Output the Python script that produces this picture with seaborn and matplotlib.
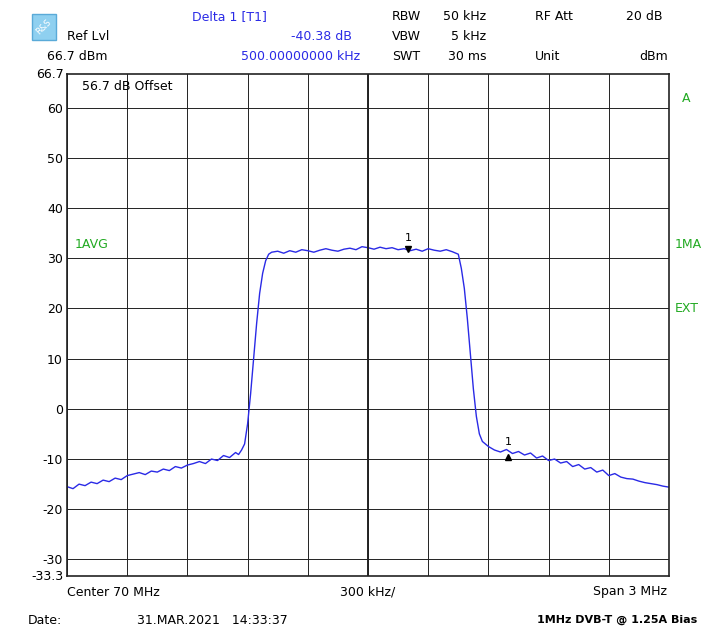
import numpy as np
import pandas as pd
import matplotlib
matplotlib.use("Agg")
import matplotlib.pyplot as plt
import seaborn as sns

# trace: division index (0..10) and level in dBm
divs = [0, 0.1, 0.2, 0.3, 0.4, 0.5, 0.6, 0.7, 0.8, 0.9, 1.0, 1.1, 1.2, 1.3, 1.4, 1.5, 1.6, 1.7,
        1.8, 1.9, 2.0, 2.1, 2.2, 2.3, 2.4, 2.5, 2.6, 2.7, 2.8, 2.85, 2.9, 2.95, 3.0, 3.05, 3.1,
        3.15, 3.2, 3.25, 3.3, 3.35, 3.4, 3.5, 3.6, 3.7, 3.8, 3.9, 4.0, 4.1, 4.2, 4.3, 4.4, 4.5,
        4.6, 4.7, 4.8, 4.9, 5.0, 5.1, 5.2, 5.3, 5.4, 5.5, 5.6, 5.7, 5.8, 5.9, 6.0, 6.1, 6.2,
        6.3, 6.4, 6.5, 6.55, 6.6, 6.65, 6.7, 6.75, 6.8, 6.85, 6.9, 7.0, 7.1, 7.2, 7.3, 7.4, 7.5,
        7.6, 7.7, 7.8, 7.9, 8.0, 8.1, 8.2, 8.3, 8.4, 8.5, 8.6, 8.7, 8.8, 8.9, 9.0, 9.1, 9.2,
        9.3, 9.4, 9.5, 9.6, 9.7, 9.8, 9.9, 10.0]
level = [-15.5, -15.9, -15.0, -15.3, -14.6, -14.9, -14.2, -14.5, -13.8, -14.1, -13.3, -13.0,
         -12.7, -13.1, -12.4, -12.6, -12.0, -12.3, -11.5, -11.8, -11.2, -10.9, -10.5, -10.9,
         -10.0, -10.3, -9.3, -9.7, -8.7, -9.1, -8.2, -7.0, -3.0, 3.0, 10.0, 17.0, 23.0, 27.0,
         29.5, 30.8, 31.2, 31.4, 31.0, 31.5, 31.2, 31.7, 31.5, 31.2, 31.6, 31.9, 31.6, 31.4,
         31.8, 32.0, 31.7, 32.3, 32.1, 31.8, 32.2, 31.9, 32.1, 31.7, 31.9, 31.5, 31.8, 31.4,
         31.9, 31.6, 31.4, 31.7, 31.3, 30.8, 28.0, 24.0, 18.0, 11.0, 4.0, -1.5, -5.0, -6.5,
         -7.5, -8.2, -8.6, -8.1, -8.9, -8.5, -9.2, -8.8, -9.8, -9.4, -10.3, -10.0, -10.8,
         -10.5, -11.5, -11.1, -12.0, -11.7, -12.6, -12.2, -13.3, -12.9, -13.6, -13.9, -14.0,
         -14.4, -14.7, -14.9, -15.1, -15.4, -15.6]

center_mhz = 70.0
span_mhz = 3.0
ref_lvl = 66.7
y_ticks = [60, 50, 40, 30, 20, 10, 0, -10, -20, -30]
marker1 = (70.2, 31.9)
delta1 = (70.7, -9.5)

df = pd.DataFrame({"freq": [center_mhz - span_mhz / 2 + d * span_mhz / 10 for d in divs],
                   "dbm": level})

blue = "#2a2ae6"
green = "#22aa22"

fig = plt.figure(figsize=(7.13, 6.39), dpi=100)
ax = fig.add_axes([67 / 713, 1 - 576 / 639, 602 / 713, 502 / 639])
sns.lineplot(data=df, x="freq", y="dbm", color=blue, lw=1.0, ax=ax)

f0, f1 = center_mhz - span_mhz / 2, center_mhz + span_mhz / 2
ax.set_xlim(f0, f1)
ax.set_ylim(ref_lvl - 100, ref_lvl)
ax.set_xticks([f0 + i * span_mhz / 10 for i in range(11)])
ax.set_yticks(y_ticks)
ax.set_yticklabels([str(t) for t in y_ticks], fontsize=9)
ax.set_xticklabels([])
ax.tick_params(length=0, pad=3)
ax.grid(True, color="#222222", lw=0.7)
ax.axvline(center_mhz, color="#222222", lw=1.4)
for s in ax.spines.values():
    s.set_color("#222222")
    s.set_linewidth(1.2)
ax.set_xlabel("")
ax.set_ylabel("")

# markers
ax.plot(*marker1, marker="v", color="black", ms=5)
ax.text(marker1[0], marker1[1] + 1.6, "1", fontsize=8, ha="center")
ax.plot(*delta1, marker="^", color="black", ms=5)
ax.text(delta1[0], delta1[1] + 2.2, "1", fontsize=8, ha="center")

def t(x, y, s, **kw):
    kw.setdefault("fontsize", 9)
    fig.text(x / 713, 1 - y / 639, s, va="center", **kw)

t(64, 74, "66.7", ha="right")
t(64, 576, "-33.3", ha="right")
t(67, 37, "Ref Lvl")
t(47, 56, "66.7 dBm")
t(192, 17, "Delta 1 [T1]", color=blue)
t(352, 37, "-40.38 dB", color=blue, ha="right")
t(360, 56, "500.00000000 kHz", color=blue, ha="right")
t(392, 17, "RBW")
t(486, 17, "50 kHz", ha="right")
t(392, 37, "VBW")
t(486, 37, "5 kHz", ha="right")
t(392, 56, "SWT")
t(486, 56, "30 ms", ha="right")
t(535, 17, "RF Att")
t(662, 17, "20 dB", ha="right")
t(535, 56, "Unit")
t(668, 56, "dBm", ha="right")
t(82, 87, "56.7 dB Offset")
t(75, 245, "1AVG", color=green)
t(675, 245, "1MA", color=green)
t(675, 308, "EXT", color=green)
t(682, 98, "A", color=green)
t(67, 592, "Center 70 MHz")
t(368, 592, "300 kHz/", ha="center")
t(667, 592, "Span 3 MHz", ha="right")
t(28, 620, "Date:")
t(137, 620, "31.MAR.2021   14:33:37")
t(697, 620, "1MHz DVB-T @ 1.25A Bias", ha="right", fontsize=8, weight="bold")

# little logo box
fig.patches.append(plt.Rectangle((32 / 713, 1 - 40 / 639), 24 / 713, 26 / 639,
                                 transform=fig.transFigure, fc="#8fd0f0", ec="#5aaad8"))
t(44, 27, "R&S", fontsize=6, ha="center", color="white", rotation=45)

fig.savefig("out.png", dpi=100, facecolor="white")
